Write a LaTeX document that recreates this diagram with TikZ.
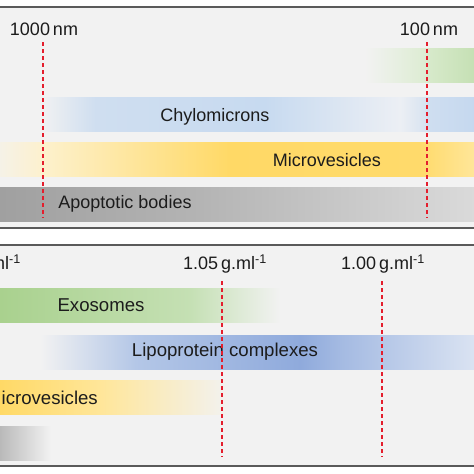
\documentclass[tikz,border=0pt]{standalone}
\usepackage{fontspec}
\setmainfont{Liberation Sans}
\usepackage{tikz}
\definecolor{panel}{RGB}{242,242,242}
\definecolor{frame}{RGB}{90,90,90}
\definecolor{cut}{RGB}{228,30,45}
\definecolor{ink}{RGB}{28,28,28}
\definecolor{G1}{RGB}{169,209,142}
\definecolor{G2}{RGB}{197,224,180}
\definecolor{G3}{RGB}{220,236,209}
\definecolor{B1}{RGB}{207,222,240}
\definecolor{B2}{RGB}{199,218,240}
\definecolor{B3}{RGB}{236,239,244}
\definecolor{L1}{RGB}{180,199,231}
\definecolor{L2}{RGB}{143,170,220}
\definecolor{L3}{RGB}{164,186,226}
\definecolor{L4}{RGB}{218,227,242}
\definecolor{Y1}{RGB}{255,217,102}
\definecolor{Y2}{RGB}{255,230,153}
\definecolor{Y3}{RGB}{253,241,205}
\definecolor{K1}{RGB}{160,160,160}
\definecolor{K2}{RGB}{180,180,180}
\definecolor{K3}{RGB}{218,218,218}
% one piece of a colour bar, fading from #4 to #5
\newcommand{\fadebar}[5]{\shade[left color=#4,right color=#5] (#1,#3) rectangle (#2+0.6,#3+34);}
\newcommand{\drawpanel}[2]{
    \fill[panel] (-5,#1) rectangle (480,#2);
    \draw[frame,line width=2pt] (-5,#1)--(480,#1) (-5,#2)--(480,#2);
}
\newcommand{\drawcut}{\draw[cut,line width=1.8pt,dash pattern=on 4pt off 3pt]}
\tikzset{
  lbl/.style={anchor=base,inner sep=0pt,text=ink,font=\fontsize{18}{20}\selectfont},
  barname/.style={inner sep=0pt,text=ink,font=\fontsize{18}{20}\selectfont},
  barlow/.style={barname,font=\fontsize{18.6}{20}\selectfont}
}

\begin{document}
\begin{tikzpicture}[x=1pt,y=-1pt]
\useasboundingbox (0,0) rectangle (474,474);
\clip (0,0) rectangle (474,474);
\drawpanel{7}{228}
\drawpanel{245}{466}
% size panel
\fadebar{365}{427}{48}{panel}{G3}\fadebar{427}{474}{48}{G3!80!G2}{G2}
\fadebar{40}{95}{97}{panel}{B1}\fadebar{95}{265}{97}{B1}{B2}\fadebar{265}{400}{97}{B2}{B3}\fadebar{400}{427}{97}{B3}{B1!80!panel}\fadebar{427}{474}{97}{B1}{B2!90!L1}
\fadebar{0}{43}{142}{panel!70!Y3}{Y3}\fadebar{43}{230}{142}{Y3}{Y1}\fadebar{230}{420}{142}{Y1}{Y1!90!Y2}\fadebar{420}{474}{142}{Y1!90!Y2}{Y2}
\fadebar{0}{200}{187}{K1}{K2}\fadebar{200}{474}{187}{K2}{K3}
% density panel
\fadebar{0}{190}{288}{G1}{G2}\fadebar{190}{280}{288}{G2}{panel}
\fadebar{40}{135}{335}{panel}{L1}\fadebar{135}{300}{335}{L1}{L2}\fadebar{300}{340}{335}{L2}{L3}\fadebar{340}{474}{335}{L3}{L4}
\fadebar{0}{100}{380}{Y1}{Y2}\fadebar{100}{230}{380}{Y2}{panel}
\fadebar{0}{50}{426}{K3!85!black}{panel}
\node[barname] (chylo) at (215,117) {Chylomicrons};
\node[barname] (mvtop) at (327,160) {Microvesicles};
\node[barname] (apop) at (125,204) {Apoptotic bodies};
\node[barlow] (exo) at (101,305) {Exosomes};
\node[barlow] (lipo) at (225,352) {Lipoprotein complexes};
\node[barlow,anchor=east] (mvbot) at (98,398) {Microvesicles};
\node[lbl] (nm1000) at (44,35.5) {1000\,nm};
\node[lbl] (nm100) at (429,35.5) {100\,nm};
\node[lbl] (g110) at (-21,269.5) {1.10\,g.ml\textsuperscript{-1}};
\node[lbl] (g105) at (225,269.5) {1.05\,g.ml\textsuperscript{-1}};
\node[lbl] (g100) at (383,269.5) {1.00\,g.ml\textsuperscript{-1}};
\coordinate (t1000) at (43,42);\coordinate (b1000) at (43,218);
\coordinate (t100) at (427,42);\coordinate (b100) at (427,218);
\coordinate (t105) at (222,281);\coordinate (b105) at (222,457);
\coordinate (t100g) at (382,281);\coordinate (b100g) at (382,457);
\drawcut (t1000)--(b1000);\drawcut (t100)--(b100);
\drawcut (t105)--(b105);\drawcut (t100g)--(b100g);
\end{tikzpicture}
\end{document}
